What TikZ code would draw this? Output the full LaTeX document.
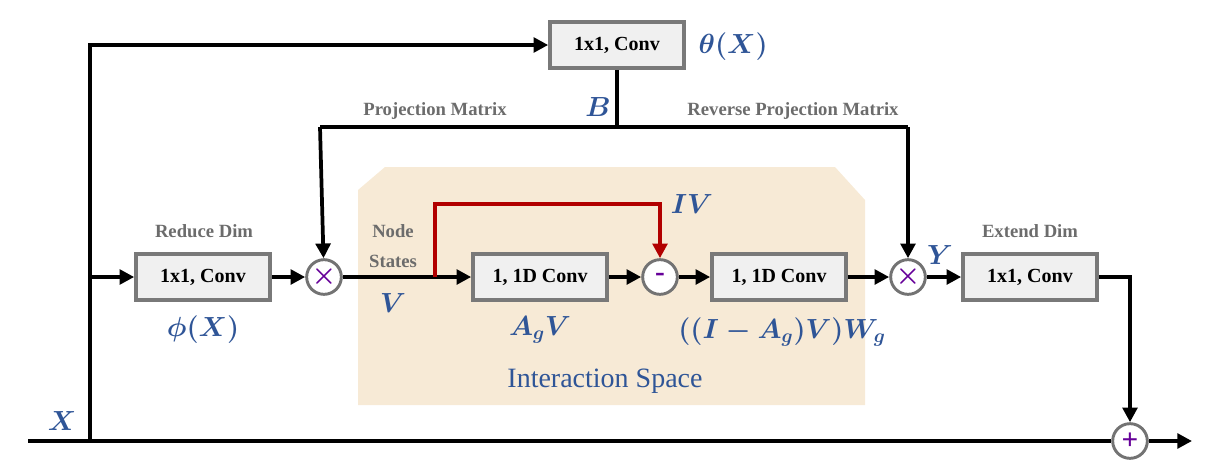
\documentclass[tikz,border=0pt]{standalone}
\usepackage{fontspec}
\setmainfont{Liberation Serif}
\usepackage{amsmath}
\usetikzlibrary{arrows.meta}
\definecolor{mblue}{HTML}{2F5597}
\definecolor{bg}{HTML}{F7EAD6}
\begin{document}
\begin{tikzpicture}[x=0.75pt,y=-0.75pt,
 conv/.style={draw=gray!95!black,line width=3.2pt,fill=gray!12,minimum width=100pt,minimum height=34pt,font=\bfseries\fontsize{15}{17}\selectfont,inner sep=0pt},
 op/.style={circle,draw=gray!90!black,line width=2.2pt,fill=white,minimum size=26pt,inner sep=0pt,text=violet!80!blue,font=\bfseries\fontsize{22}{22}\selectfont},
 ln/.style={line width=2.8pt,-{Triangle[length=11pt,width=11pt]}},
 pl/.style={line width=2.8pt},
 lab/.style={text=gray!85!black,font=\bfseries\fontsize{14}{16}\selectfont},
 mth/.style={text=mblue,font=\fontsize{21}{23}\selectfont}]
\useasboundingbox (0,0) rectangle (1220,468);
\fill[bg] (358,190)--(385,167)--(835,167)--(865,200)--(865,405)--(358,405)--cycle;
\node[conv] (top) at (617,45) {1x1, Conv};
\node[conv] (red) at (203,277) {1x1, Conv};
\node[conv] (c1) at (540,277) {1, 1D Conv};
\node[conv] (c2) at (779,277) {1, 1D Conv};
\node[conv] (ext) at (1030,277) {1x1, Conv};
\node[op] (m1) at (324,277) {$\boldsymbol{\times}$};
\node[op] (mi) at (660,277) {-};
\node[op] (m2) at (908,277) {$\boldsymbol{\times}$};
\node[op] (pl) at (1130,441) {+};
\coordinate (s) at (28,441);
\coordinate (e) at (1192,441);
\coordinate (j) at (90,441);
\coordinate (bt) at (617,127);
\coordinate (bl) at (320,127);
\coordinate (br) at (908,127);
\coordinate (rs) at (435,277);
\draw[pl] (s) -- (pl);
\draw[ln] (pl) -- (e);
\draw[ln] (j) |- (top);
\draw[ln] (90,277) -- (red);
\draw[ln] (red) -- (m1);
\draw[pl] (top) -- (bt);
\draw[pl] (bl) -- (br);
\draw[ln] (bl) -- (m1);
\draw[ln] (br) -- (m2);
\draw[ln] (m1) -- (c1);
\draw[ln] (c1) -- (mi);
\draw[ln] (mi) -- (c2);
\draw[ln] (c2) -- (m2);
\draw[ln] (m2) -- (ext);
\draw[ln] (ext) -| (pl);
\draw[line width=2.8pt,red!70!black,-{Triangle[length=11pt,width=11pt]}] (rs) |- (660,204) -- (mi);
\node[mth,anchor=west] (tx) at (694,47) {$\boldsymbol{\theta(X)}$};
\node[mth] (phx) at (203,330) {$\boldsymbol{\phi(X)}$};
\node[mth] (xl) at (62,421) {$\boldsymbol{X}$};
\node[mth] (bl2) at (598,107) {$\boldsymbol{B}$};
\node[mth] (vl) at (393,303) {$\boldsymbol{V}$};
\node[mth] (ivl) at (692,204) {$\boldsymbol{IV}$};
\node[mth] (agv) at (540,330) {$\boldsymbol{A_gV}$};
\node[mth] (wg) at (782,332) {$\boldsymbol{((I-A_g)V)W_g}$};
\node[mth] (yl) at (940,255) {$\boldsymbol{Y}$};
\node[text=mblue,font=\fontsize{21}{23}\selectfont] (is) at (605,381) {Interaction Space};
\node[lab] (pm) at (435,111) {Projection Matrix};
\node[lab] (rpm) at (793,111) {Reverse Projection Matrix};
\node[lab] (rd) at (204,231) {Reduce Dim};
\node[lab] (ed) at (1030,231) {Extend Dim};
\node[lab,align=center,font=\bfseries\fontsize{14}{22}\selectfont] (ns) at (393,246) {Node\\States};
\end{tikzpicture}
\end{document}
